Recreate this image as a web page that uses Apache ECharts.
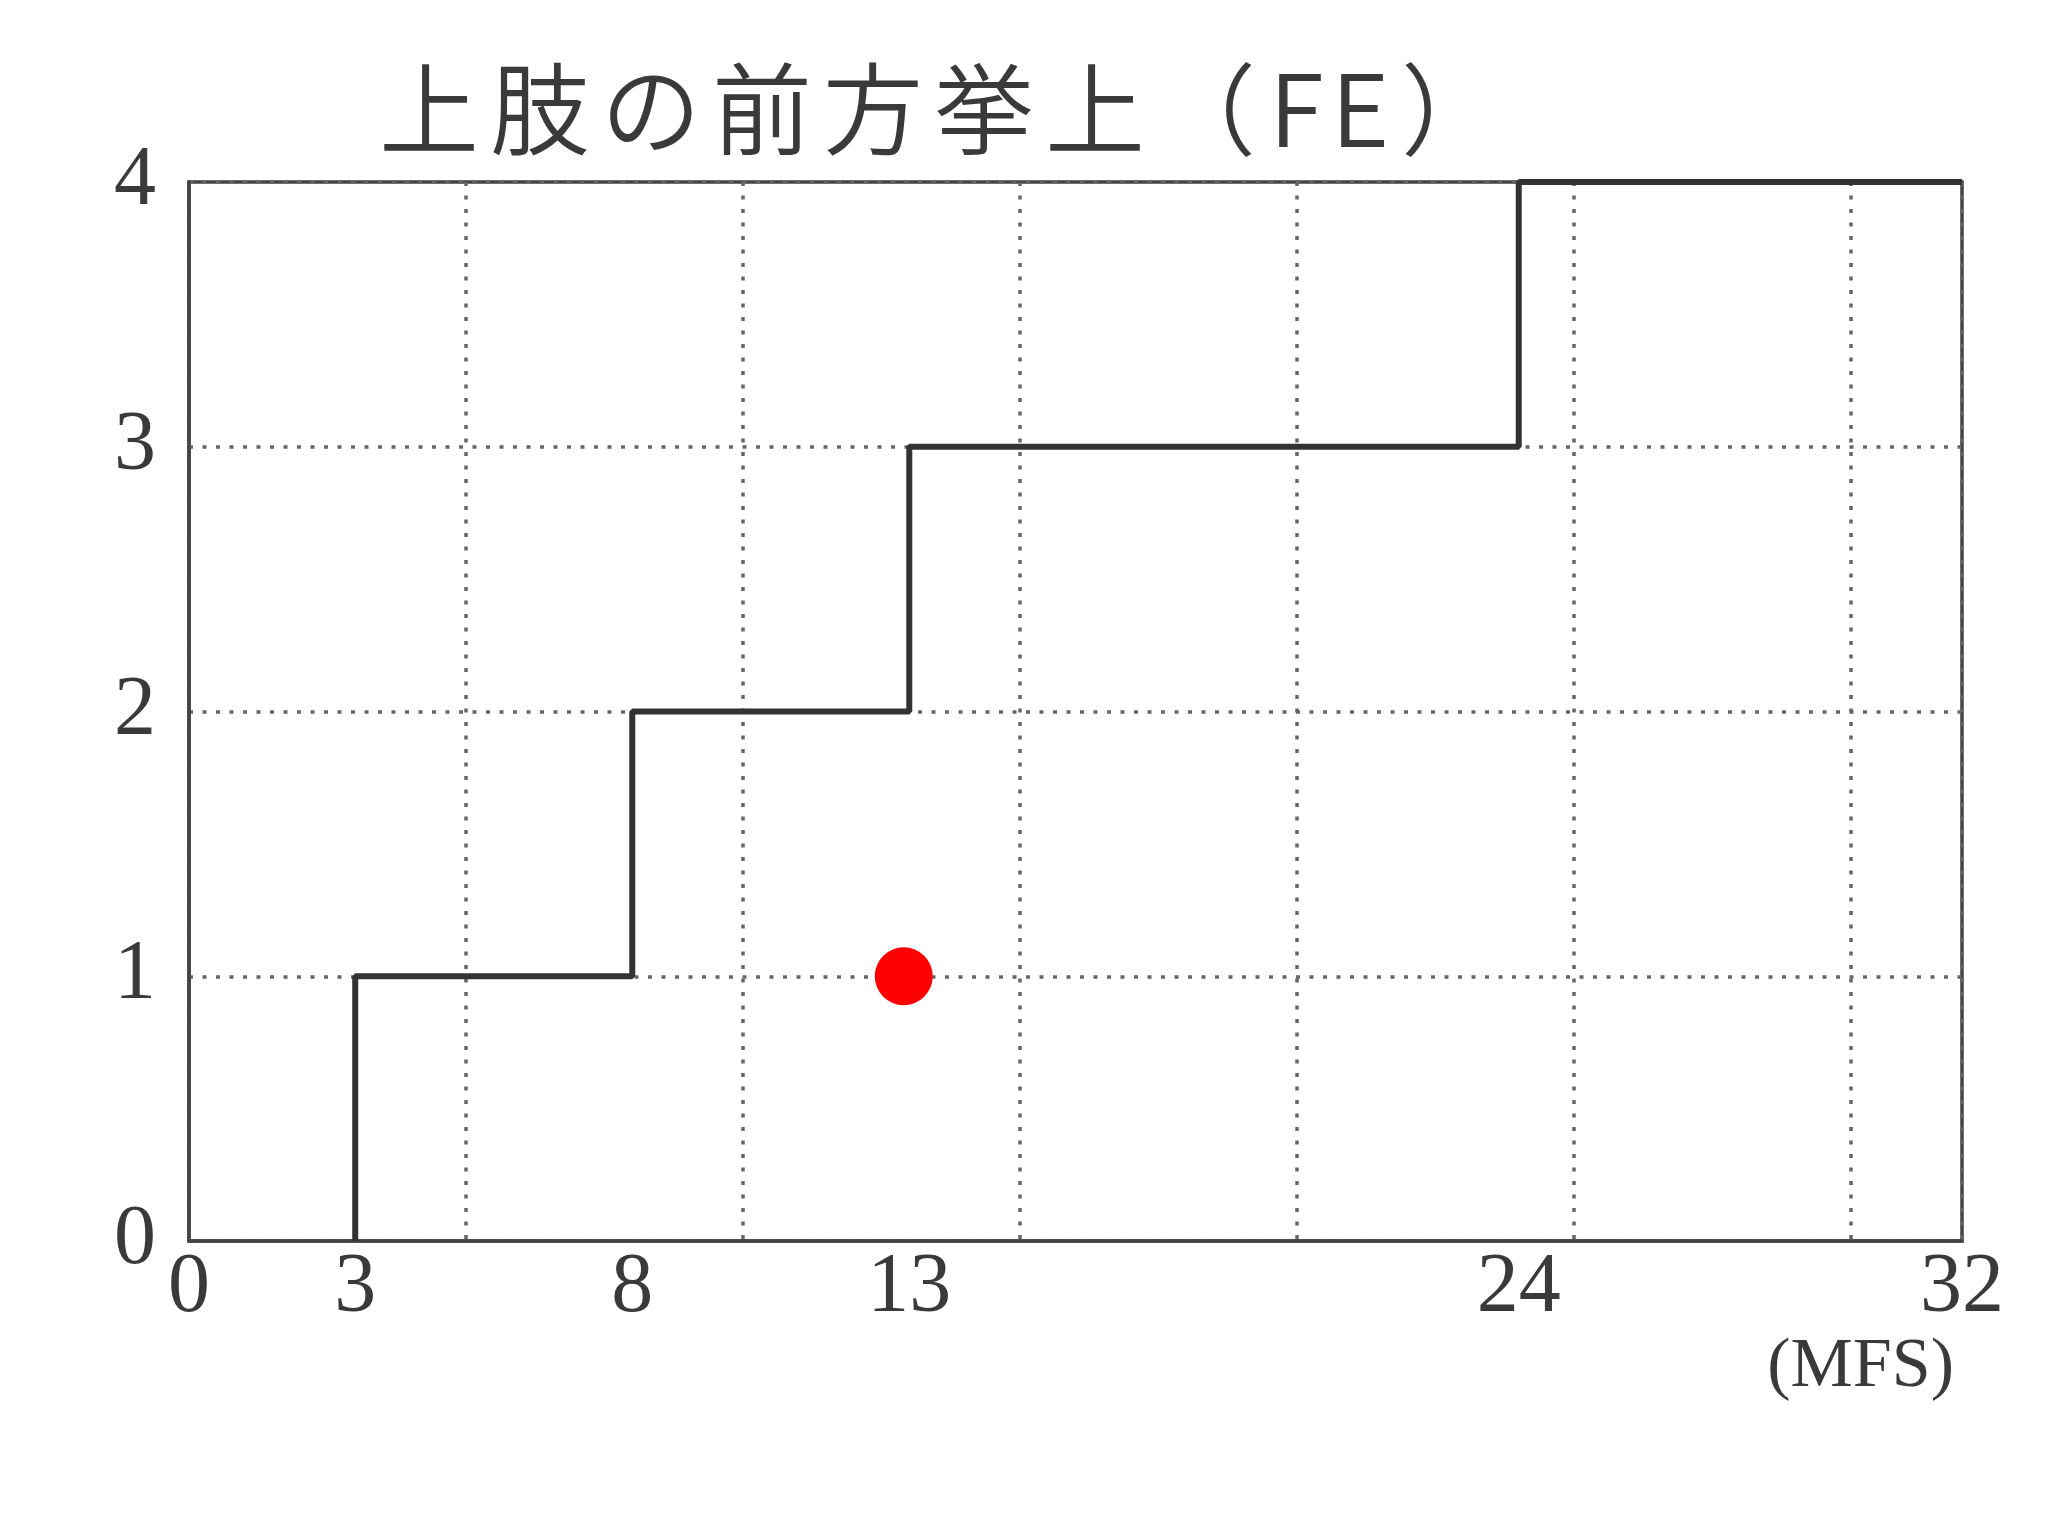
<!DOCTYPE html>
<html>
<head>
<meta charset="utf-8">
<title>上肢の前方挙上（FE）</title>
<script src="https://cdn.jsdelivr.net/npm/echarts@6/dist/echarts.min.js"></script>
<style>
html, body { margin: 0; padding: 0; background: #fff; }
#main { width: 2048px; height: 1536px; }
</style>
</head>
<body>
<div id="main"></div>
<script>
// step points: the score rises to "level" at each MFS value
var stepX = [3, 8, 13, 24, 32];
var level = [0, 1, 2, 3, 4];
// x tick labels that are printed under the axis
var xLabels = [0, 3, 8, 13, 24, 32];
// the red marker
var dotX = [12.9];
var dotY = [1];

var stepData = [];
for (var i = 0; i < stepX.length; i++) {
    stepData.push([stepX[i], level[i]]);
}
var dotData = [];
for (var j = 0; j < dotX.length; j++) {
    dotData.push([dotX[j], dotY[j]]);
}

var serif = '"Liberation Serif", "DejaVu Serif", serif';
var cjk = '"Noto Sans CJK JP", sans-serif';
var dotted = {
    color: '#666',
    width: 3.5,
    type: [4, 9.5]
};
function titleStyle(w) {
    var s = { fontFamily: cjk, fontSize: 100, fontWeight: 350, color: '#3a3a3a' };
    if (w) s.width = w;
    return s;
}

var option = {
    animation: false,
    backgroundColor: '#fff',
    title: {
        text: '{c|上}{c|肢}{c|の}{c|前}{c|方}{c|挙}{c|上}{p|（}{f|F}{e|E}{r|）}',
        left: 379,
        top: 59,
        padding: 0,
        textStyle: {
            fontFamily: cjk,
            fontSize: 100,
            fontWeight: 350,
            color: '#3a3a3a',
            rich: {
                c: titleStyle(111),
                p: titleStyle(113),
                f: titleStyle(62),
                e: titleStyle(70),
                r: titleStyle()
            }
        }
    },
    grid: {
        left: 189,
        right: 86,
        top: 182,
        bottom: 295,
        show: true,
        borderColor: '#444',
        borderWidth: 3.5,
        outerBoundsMode: 'none'
    },
    xAxis: {
        type: 'value',
        min: 0,
        max: 32,
        interval: 5,
        axisLine: { show: true, lineStyle: { color: '#444', width: 3.5 } },
        axisTick: { show: false },
        splitLine: { show: true, lineStyle: dotted },
        axisLabel: {
            customValues: xLabels,
            margin: 6,
            fontFamily: serif,
            fontSize: 84,
            color: '#3a3a3a'
        }
    },
    yAxis: {
        type: 'value',
        min: 0,
        max: 4,
        interval: 1,
        axisLine: { show: true, lineStyle: { color: '#444', width: 3.5 } },
        axisTick: { show: false },
        splitLine: { show: true, lineStyle: dotted },
        axisLabel: {
            margin: 33,
            fontFamily: serif,
            fontSize: 84,
            color: '#3a3a3a'
        }
    },
    graphic: [
        {
            type: 'text',
            x: 1954,
            y: 1368,
            style: {
                text: '(MFS)',
                font: '70px "Liberation Serif", serif',
                fill: '#3a3a3a',
                align: 'right',
                verticalAlign: 'middle'
            }
        }
    ],
    series: [
        {
            name: 'FE',
            type: 'line',
            step: 'start',
            data: stepData,
            showSymbol: false,
            clip: false,
            lineStyle: { color: '#333', width: 6 },
            z: 3
        },
        {
            name: 'point',
            type: 'scatter',
            data: dotData,
            symbol: 'circle',
            symbolSize: 58,
            itemStyle: { color: '#ff0000', opacity: 1 },
            z: 4
        }
    ]
};

var myChart = echarts.init(document.getElementById('main'));
myChart.setOption(option);
</script>
</body>
</html>
